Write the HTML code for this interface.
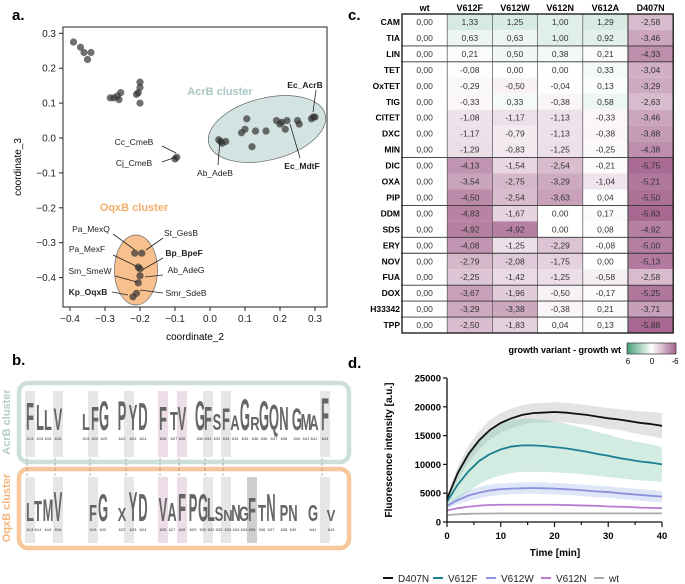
<!DOCTYPE html>
<html><head><meta charset="utf-8"><style>
html,body{margin:0;padding:0;background:#fff;}
svg{display:block;font-family:"Liberation Sans",sans-serif;}
</style></head><body>
<svg id="fig" width="685" height="584" viewBox="0 0 685 584" xmlns="http://www.w3.org/2000/svg">
<g id="pa"></g>
<g id="pb"></g>
<g id="pc"></g>
<g id="pd"></g>
</svg>
<script>
// ---------- Panel a data ----------
const scatterX = [-0.39,-0.37,-0.36,-0.35,-0.34,-0.285,-0.275,-0.265,-0.26,-0.255,-0.21,-0.2,-0.2,-0.2,-0.205,-0.1,-0.095,0.025,0.03,0.035,0.045,0.09,0.1,0.105,0.12,0.13,0.16,0.19,0.2,0.205,0.215,0.22,0.25,0.255,0.29,0.295,0.3,-0.215,-0.195,-0.205,-0.2,-0.2,-0.205,-0.21,-0.22];
const scatterY = [0.275,0.26,0.245,0.225,0.245,0.115,0.115,0.12,0.11,0.13,0.125,0.16,0.145,0.1,0.13,-0.06,-0.055,-0.005,-0.01,-0.015,-0.01,0.015,0.025,0.055,-0.025,0.02,0.02,0.05,0.04,0.045,0.025,0.05,0.05,0.04,0.055,0.06,0.06,-0.33,-0.33,-0.37,-0.375,-0.395,-0.415,-0.445,-0.455];
const aXTicks = [-0.4,-0.3,-0.2,-0.1,0.0,0.1,0.2,0.3];
const aYTicks = [0.3,0.2,0.1,0.0,-0.1,-0.2,-0.3,-0.4];
// ---------- Panel c data ----------
const drugs = ["CAM","TIA","LIN","TET","OxTET","TIG","CITET","DXC","MIN","DIC","OXA","PIP","DDM","SDS","ERY","NOV","FUA","DOX","H33342","TPP"];
const variants = ["wt","V612F","V612W","V612N","V612A","D407N"];
const valV612F = [1.33,0.63,0.21,-0.08,-0.29,-0.33,-1.08,-1.17,-1.29,-4.13,-3.54,-4.50,-4.83,-4.92,-4.08,-2.79,-2.25,-3.67,-3.29,-2.50];
const valV612W = [1.25,0.63,0.50,0.00,-0.50,0.33,-1.17,-0.79,-0.83,-1.54,-2.75,-2.54,-1.67,-4.92,-1.25,-2.08,-1.42,-1.96,-3.38,-1.83];
const valV612N = [1.00,1.00,0.38,0.00,-0.04,-0.38,-1.13,-1.13,-1.25,-2.54,-3.29,-3.63,0.00,0.00,-2.29,-1.75,-1.25,-0.50,-0.38,0.04];
const valV612A = [1.29,0.92,0.21,0.33,0.13,0.58,-0.33,-0.38,-0.25,-0.21,-1.04,0.04,0.17,0.08,-0.08,0.00,-0.58,-0.17,0.21,0.13];
const valD407N = [-2.58,-3.46,-4.33,-3.04,-3.29,-2.63,-3.46,-3.88,-4.38,-5.75,-5.21,-5.50,-5.83,-4.92,-5.00,-5.13,-2.58,-5.25,-3.71,-5.88];
// ---------- Panel d data ----------
const timePts = [0,2,4,6,8,10,12,14,16,18,20,22,24,26,28,30,32,34,36,38,40];
const d407n = [4000,8500,11800,14200,16000,17200,18000,18600,18900,19000,19100,19000,18800,18600,18300,18000,17800,17500,17200,17000,16700];
const d407nSd = [500,1200,1500,1600,1700,1700,1700,1700,1700,1700,1700,1700,1700,1700,1700,1800,1800,1900,2000,2100,2200];
const v612f = [3500,6500,8800,10600,11800,12600,13100,13300,13300,13200,13000,12800,12500,12200,11800,11500,11100,10800,10500,10300,10000];
const v612fSd = [800,2500,3500,4000,4300,4500,4600,4600,4600,4500,4400,4300,4100,4000,3800,3700,3500,3400,3300,3200,3000];
const v612w = [2800,3800,4600,5100,5500,5700,5800,5850,5900,5850,5800,5700,5600,5450,5300,5200,5000,4850,4700,4550,4400];
const v612wSd = [400,700,900,1000,1000,1000,1000,1000,1000,1000,1000,1000,1000,1000,1000,1000,1000,1000,1000,1000,1000];
const v612n = [2000,2400,2650,2850,2950,3000,3000,3000,3000,3000,3000,2950,2900,2850,2800,2700,2650,2600,2500,2450,2400];
const wtS = [1200,1350,1420,1460,1480,1500,1500,1500,1500,1500,1500,1500,1500,1500,1500,1500,1500,1500,1500,1500,1500];
const dXTicks = [0,10,20,30,40];
const dYTicks = [0,5000,10000,15000,20000,25000];
const legendNames = ["D407N","V612F","V612W","V612N","wt"];

const NS="http://www.w3.org/2000/svg";
function mk(parent,tag,attrs,text){const e=document.createElementNS(NS,tag);for(const k in attrs)e.setAttribute(k,attrs[k]);if(text!==undefined)e.textContent=text;parent.appendChild(e);return e;}

// ================= Panel a =================
const pa=document.getElementById('pa');
const ax=v=>210+v*350, ay=v=>138-v*349;
let t=mk(pa,'text',{x:12,y:20,'font-size':15,'font-weight':'bold'},'a.');


let e1=mk(pa,'ellipse',{cx:267,cy:129,rx:60,ry:31,fill:'#d3e3e1',stroke:'#666','stroke-width':0.7,transform:'rotate(-14 267 129)'});


let e2=mk(pa,'ellipse',{cx:136,cy:270,rx:21.5,ry:35,fill:'#f7c08c',stroke:'#666','stroke-width':0.7});


let fr=mk(pa,'rect',{x:63,y:27,width:264,height:280,fill:'none',stroke:'#222','stroke-width':1});


aXTicks.forEach(v=>{const x=ax(v);mk(pa,'line',{x1:x,x2:x,y1:307,y2:311,stroke:'#222'});
 const l=mk(pa,'text',{x:x,y:322,'font-size':10,'text-anchor':'middle',fill:'#222'},(v<0?'\u2212':'')+Math.abs(v).toFixed(1));
 
 });
aYTicks.forEach(v=>{const y=ay(v);mk(pa,'line',{x1:59,x2:63,y1:y,y2:y,stroke:'#222'});
 const l=mk(pa,'text',{x:56,y:y+3.5,'font-size':10,'text-anchor':'end',fill:'#222'},(v<0?'\u2212':'')+Math.abs(v).toFixed(1));
 
 });
t=mk(pa,'text',{x:195,y:340,'font-size':10,'text-anchor':'middle'},'coordinate_2');


t=mk(pa,'text',{x:21,y:167,'font-size':10,'text-anchor':'middle',transform:'rotate(-90 21 167)'},'coordinate_3');


scatterX.forEach((v,i)=>{const c=mk(pa,'circle',{cx:ax(v),cy:ay(scatterY[i]),r:3.6,fill:'#333','fill-opacity':0.7});
 
 });
t=mk(pa,'text',{x:220,y:95,'font-size':11,'font-weight':'bold','text-anchor':'middle',fill:'#a9c7c3'},'AcrB cluster');


t=mk(pa,'text',{x:134,y:211,'font-size':11,'font-weight':'bold','text-anchor':'middle',fill:'#f5ad6b'},'OqxB cluster');


const anns=[["Ec_AcrB",305,88,1,316,90,313,112],["Ec_MdtF",302,169,1,300,158,290,124],["Ab_AdeB",215,176,0,218,165,220,140],
["Cc_CmeB",134,145,0,162,146,176,153],["Cj_CmeB",134,166,0,162,162,176,157],["Pa_MexQ",91,232,0,113,234,135,250],
["St_GesB",181,236,0,163,238,146,250],["Pa_MexF",87,252,0,113,255,138,267],["Bp_BpeF",184,256,1,163,258,142,270],
["Sm_SmeW",90,274,0,115,276,137,282],["Ab_AdeG",186,273,0,163,275,145,277],["Kp_OqxB",88,295,1,112,292,128,295],["Smr_SdeB",186,296,0,163,293,140,290]];
anns.forEach(a=>{const l=mk(pa,'text',{x:a[1],y:a[2],'font-size':8.5,'text-anchor':'middle','font-weight':a[3]?'bold':'normal',fill:'#222'},a[0]);
 
 
 mk(pa,'line',{x1:a[4],y1:a[5],x2:a[6],y2:a[7],stroke:'#222','stroke-width':0.8});});

// ================= Panel b =================
const pb=document.getElementById('pb');
t=mk(pb,'text',{x:12,y:365,'font-size':15,'font-weight':'bold'},'b.');


let r1=mk(pb,'rect',{x:19,y:383,width:330,height:79,rx:9,fill:'none',stroke:'#cddfdd','stroke-width':4.5});


let r2=mk(pb,'rect',{x:19,y:469,width:330,height:79,rx:9,fill:'none',stroke:'#f8c79c','stroke-width':4.5});


t=mk(pb,'text',{x:10,y:422,'font-size':11,'font-weight':'bold','text-anchor':'middle',fill:'#b3ccc9',transform:'rotate(-90 10 422)'},'AcrB cluster');


t=mk(pb,'text',{x:10,y:508,'font-size':11,'font-weight':'bold','text-anchor':'middle',fill:'#f5b47a',transform:'rotate(-90 10 508)'},'OqxB cluster');


const grayCols=[30,58,93,129,208,226,325];
const purpCols=[163,182];
grayCols.forEach(x=>{mk(pb,'rect',{x:x-5,y:391,width:10,height:66,fill:'#e6e6e6'});mk(pb,'rect',{x:x-5,y:477,width:10,height:66,fill:'#e6e6e6'});
 mk(pb,'line',{x1:x-3,x2:x-3,y1:458,y2:476,stroke:'#888','stroke-width':0.6,'stroke-dasharray':'3,2'});});
mk(pb,'rect',{x:247,y:477,width:10,height:66,fill:'#cfcfcf'});
purpCols.forEach(x=>{mk(pb,'rect',{x:x-5,y:391,width:10,height:66,fill:'#ecdde6'});mk(pb,'rect',{x:x-5,y:477,width:10,height:66,fill:'#ecdde6'});
 mk(pb,'line',{x1:x-3,x2:x-3,y1:458,y2:476,stroke:'#888','stroke-width':0.6,'stroke-dasharray':'3,2'});});
const acrLogo=[["F",30,30],["L",40,28],["L",48,22],["V",58,24],["L",86,18],["F",95,26],["G",104,32],["P",122,32],["Y",133,28],["D",143,30],["F",163,26],["T",174,20],["V",182,26],["G",200,32],["F",208,26],["S",217,18],["F",226,24],["A",235,16],["G",245,34],["R",255,14],["G",264,32],["Q",274,28],["N",284,26],["G",297,24],["M",306,18],["A",314,16],["F",325,36]];
const oqxLogo=[["L",30,20],["T",38,22],["M",48,24],["V",58,32],["F",93,18],["G",103,30],["X",122,14],["Y",133,32],["D",143,30],["V",163,26],["A",172,20],["F",182,30],["P",193,30],["G",203,30],["L",211,26],["S",219,16],["N",228,12],["N",236,18],["G",244,16],["F",252,26],["T",262,18],["N",271,30],["P",284,18],["N",293,18],["G",313,18],["V",331,12]];
acrLogo.forEach(l=>{const s=l[2];const e=mk(pb,'text',{x:l[1],y:430,'font-size':13,'font-weight':'bold','text-anchor':'middle',fill:'#666',transform:`translate(${l[1]} 430) scale(1.0 ${s/10}) translate(${-l[1]} -430)`},l[0]);
 
 
 mk(pb,'text',{x:l[1],y:440,'font-size':4,'text-anchor':'middle',fill:'#333'},'6'+String(10+Math.round(l[1]/10)));});
oqxLogo.forEach(l=>{const s=l[2];const e=mk(pb,'text',{x:l[1],y:521,'font-size':13,'font-weight':'bold','text-anchor':'middle',fill:'#666',transform:`translate(${l[1]} 521) scale(1.0 ${s/10}) translate(${-l[1]} -521)`},l[0]);
 
 
 mk(pb,'text',{x:l[1],y:531,'font-size':4,'text-anchor':'middle',fill:'#333'},'6'+String(10+Math.round(l[1]/10)));});

// ================= Panel c =================
const pc=document.getElementById('pc');
t=mk(pc,'text',{x:348,y:20,'font-size':15,'font-weight':'bold'},'c.');


const colVals=[null,valV612F,valV612W,valV612N,valV612A,valD407N];
const cx0=402,cw=45.2,ry0=14,rh=15.95;
function heat(v){const f=Math.min(Math.abs(v)/6,1);const c=v>=0?[70,160,120]:[165,100,142];
 const m=(a)=>Math.round(255+(a-255)*f);return `rgb(${m(c[0])},${m(c[1])},${m(c[2])})`;}
variants.forEach((n,j)=>{const h=mk(pc,'text',{x:cx0+cw*j+cw/2,y:11,'font-size':9,'font-weight':'bold','text-anchor':'middle'},n);
 
 });
drugs.forEach((d,i)=>{const y=ry0+i*rh;
 const l=mk(pc,'text',{x:cx0-2,y:y+11,'font-size':8.5,'font-weight':'bold','text-anchor':'end'},d);
 
 
 variants.forEach((n,j)=>{const v=j===0?0:colVals[j][i];
  const c=mk(pc,'rect',{x:cx0+cw*j,y:y,width:cw,height:rh,fill:heat(v)});
  
  
  const tx=mk(pc,'text',{x:cx0+cw*j+cw/2,y:y+11,'font-size':8.5,'text-anchor':'middle',fill:'#333'},v.toFixed(2).replace('.',',').replace(/^-?0,00$/,'0,00'));
  
  });});
variants.forEach((n,j)=>{if(j>0)mk(pc,'line',{x1:cx0+cw*j,x2:cx0+cw*j,y1:ry0,y2:ry0+20*rh,stroke:'#555','stroke-width':j===5?1.3:0.7});});
[2,3,9,12,14,15,17,18,19].forEach(i=>mk(pc,'line',{x1:cx0-1,x2:cx0+6*cw,y1:ry0+i*rh,y2:ry0+i*rh,stroke:'#333','stroke-width':0.9}));
mk(pc,'rect',{x:cx0,y:ry0,width:6*cw,height:20*rh,fill:'none',stroke:'#111','stroke-width':1.3});
t=mk(pc,'text',{x:621,y:353,'font-size':9,'font-weight':'bold','text-anchor':'end'},'growth variant - growth wt');


const defs=mk(pc,'defs',{});const lg=mk(defs,'linearGradient',{id:'cb'});
mk(lg,'stop',{offset:'0','stop-color':'rgb(70,160,120)'});mk(lg,'stop',{offset:'0.5','stop-color':'#fff'});mk(lg,'stop',{offset:'1','stop-color':'rgb(165,100,142)'});
const cb=mk(pc,'rect',{x:627,y:343,width:49,height:11,fill:'url(#cb)',stroke:'#333','stroke-width':0.7});


[["6",628],["0",652],["-6",675]].forEach(a=>mk(pc,'text',{x:a[1],y:364,'font-size':8,'text-anchor':'middle'},a[0]));

// ================= Panel d =================
const pd=document.getElementById('pd');
t=mk(pd,'text',{x:348,y:368,'font-size':15,'font-weight':'bold'},'d.');


const dx=v=>447+v*(215/40), dy=v=>522-v*(144/25000);
function band(m,s,fill,name){let d='';timePts.forEach((tt,i)=>{d+=(i?'L':'M')+dx(tt)+','+dy(m[i]+s[i]);});
 for(let i=timePts.length-1;i>=0;i--)d+='L'+dx(timePts[i])+','+dy(m[i]-s[i]);
 const p=mk(pd,'path',{d:d+'Z',fill:fill,stroke:'none'});
 
 }
band(d407n,d407nSd,'#e3e3e3','d407n-error-band');
band(v612f,v612fSd,'rgba(140,205,175,0.38)','v612f-error-band');
band(v612w,v612wSd,'rgba(160,185,235,0.35)','v612w-error-band');
function line(m,col,name){const pts=timePts.map((tt,i)=>dx(tt)+','+dy(m[i])).join(' ');
 const p=mk(pd,'polyline',{points:pts,fill:'none',stroke:col,'stroke-width':1.8,'stroke-linejoin':'round'});
 
 }
const colors=['#111','#1c7f93','#8f8fdc','#b77ccf','#aaaaaa'];
line(wtS,colors[4],'wt-line');line(v612n,colors[3],'v612n-line');line(v612w,colors[2],'v612w-line');line(v612f,colors[1],'v612f-line');line(d407n,colors[0],'d407n-line');
mk(pd,'line',{x1:447,x2:447,y1:378,y2:522,stroke:'#111','stroke-width':1.3});
mk(pd,'line',{x1:447,x2:662,y1:522,y2:522,stroke:'#111','stroke-width':1.3});
dYTicks.forEach(v=>{mk(pd,'line',{x1:443,x2:447,y1:dy(v),y2:dy(v),stroke:'#111','stroke-width':1.2});
 const l=mk(pd,'text',{x:441,y:dy(v)+3.5,'font-size':9.5,'font-weight':'bold','text-anchor':'end'},String(v));
 
 });
for(let v=0;v<=40;v+=5){mk(pd,'line',{x1:dx(v),x2:dx(v),y1:522,y2:v%10?525:527,stroke:'#111','stroke-width':1.2});}
dXTicks.forEach(v=>{const l=mk(pd,'text',{x:dx(v),y:539,'font-size':9.5,'font-weight':'bold','text-anchor':'middle'},String(v));
 
 });
t=mk(pd,'text',{x:555,y:556,'font-size':10,'font-weight':'bold','text-anchor':'middle'},'Time [min]');


t=mk(pd,'text',{x:392,y:450,'font-size':10,'font-weight':'bold','text-anchor':'middle',transform:'rotate(-90 392 450)'},'Fluorescence intensity [a.u.]');


const legX=[383,433,486,541,594];
legendNames.forEach((n,i)=>{const g=mk(pd,'g',{});
 
 
 mk(g,'line',{x1:legX[i],x2:legX[i]+10,y1:578,y2:578,stroke:colors[i],'stroke-width':2});
 mk(g,'text',{x:legX[i]+15,y:582,'font-size':10,fill:'#222'},n);});
</script>
</body></html>
